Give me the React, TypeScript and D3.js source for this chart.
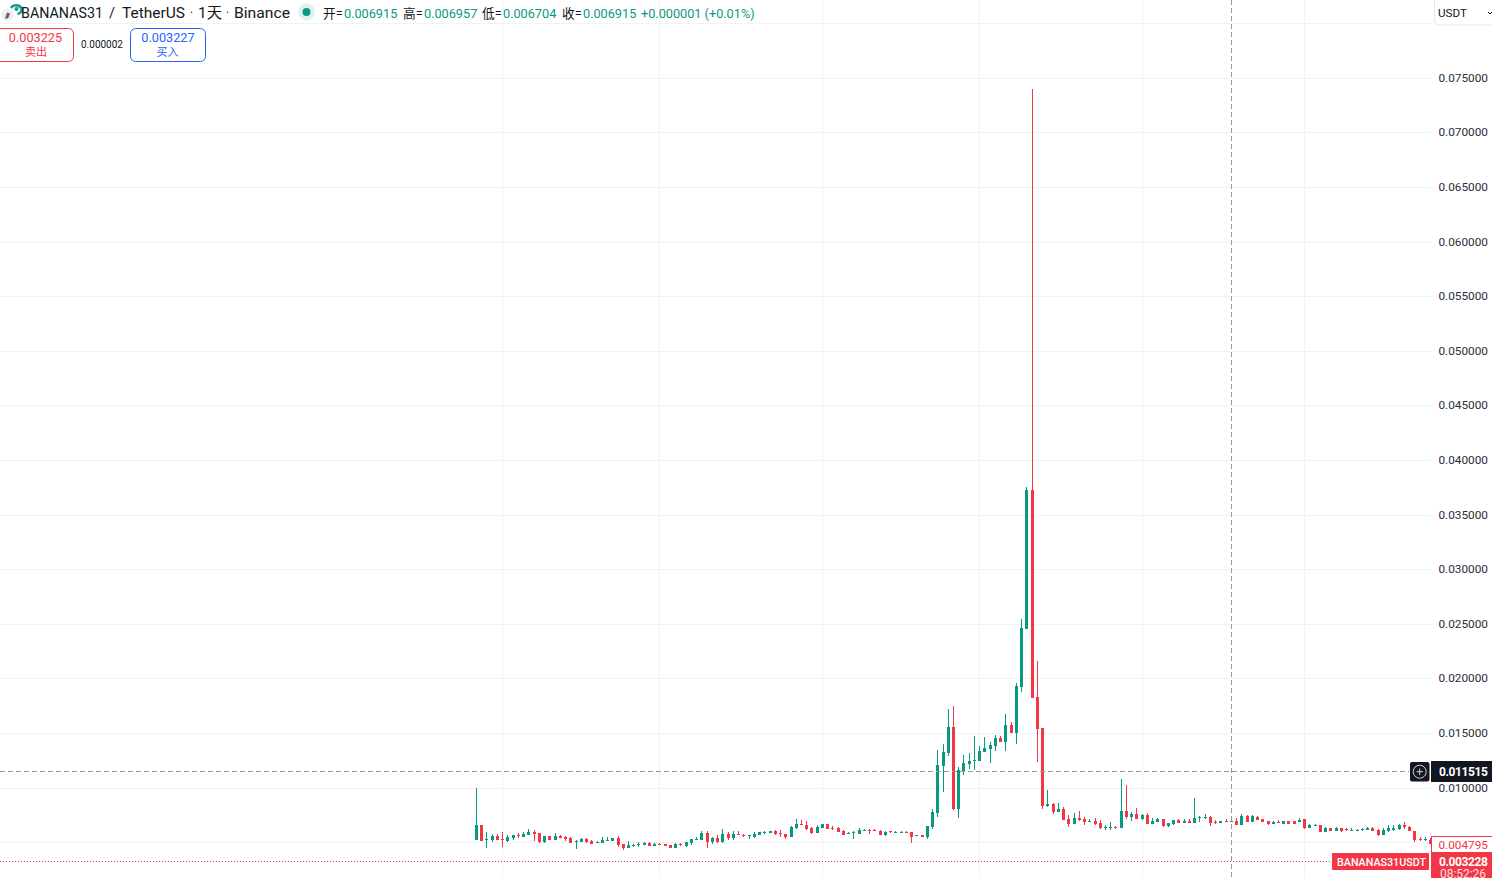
import React from "react";
import * as d3 from "d3";

const W = 1492;
const H = 878;
const FONT = "Roboto, 'Noto Sans CJK SC', sans-serif";
const UP = "#089981";
const DOWN = "#f23645";
const GRID = "#f1f2f4";
const CROSS = "#9598a1";

// prices in millionths of a USDT
const opens = [5220,6593,5220,5220,5586,5311,5128,5403,5678,5495,5678,5952,5861,5037,5586,5220,5586,5495,5403,5037,5037,5311,5128,4945,4945,5128,5128,5403,4853,4487,4670,4762,4762,4945,4670,4853,4853,4762,4487,4853,4670,4945,5220,5220,5861,5037,5403,5037,5769,5403,5769,5678,5586,5495,5678,5861,5861,6044,5861,5769,5495,6319,6685,6593,6319,5861,6319,6685,6319,6319,6044,5769,5861,5769,6044,6136,6136,6044,5678,6044,5861,5861,5952,5952,5586,5678,5495,6410,7692,11996,13187,15568,8059,11538,12179,12454,12454,13278,13553,13828,14560,14194,15751,15018,19231,24542,37271,18315,15476,8333,8516,7784,8059,7143,6685,7234,7143,6868,6960,6777,6319,6319,6410,6319,7875,7326,7601,7143,7509,6685,6868,7143,6502,6685,7051,6777,6960,6777,7234,7234,7326,6868,6777,6960,6868,6960,6593,7418,6868,7326,7143,6960,6685,6868,6685,6960,6960,6868,7143,6319,6502,6593,5952,6319,6044,6319,6227,6044,6044,6136,6136,6319,6136,5678,6044,6136,6227,6593,6410,6044,5311,5220,5220];
const highs = [9982,6593,5952,5769,5769,5952,5678,5678,5861,5952,6227,6136,5861,5586,5586,5861,5678,5586,5495,5220,5403,5403,5220,5128,5495,5495,5403,5586,4853,5128,4853,5037,5037,5037,4945,4945,4853,4762,4945,4945,5037,5311,5495,6044,6044,5495,5678,6227,5952,6044,6044,5769,5678,5952,5952,6044,6044,6136,6136,5769,6502,7143,7051,6960,6410,6593,6685,6685,6502,6410,6136,5952,6044,6319,6227,6227,6227,6136,6044,6044,6044,6044,6044,5952,5678,5678,6502,8059,13462,14011,17216,17491,11905,13004,13187,14744,13828,14652,14194,14835,14744,16758,16026,19597,25458,37546,73993,21612,15476,9798,8608,8608,8242,7509,7692,7875,7326,7143,7234,7051,6593,6868,6502,10806,10256,7784,8150,7601,7692,7234,7234,7143,6777,7051,7143,7143,7143,9066,7418,7601,7418,7051,6960,7143,6960,7234,7601,7509,7509,7418,7143,6960,6960,7051,6960,6960,6960,7234,7143,6685,6685,6593,6410,6319,6410,6319,6319,6319,6227,6319,6410,6410,6227,6319,6593,6593,6685,6868,6502,6044,5495,5495,5403];
const lows = [5220,5128,4487,5037,5220,4579,5037,5220,5403,5495,5678,5128,4945,4945,5220,5220,5403,5128,4945,4396,5037,4945,4853,4945,4945,5128,5128,4579,4304,4487,4579,4579,4762,4670,4670,4762,4670,4487,4487,4670,4579,4762,5220,5220,4487,4853,4945,4945,5220,5220,5678,5495,5311,5403,5678,5769,5861,5678,5495,5311,5495,6227,6593,6136,5769,5861,6319,6227,6136,5952,5678,5769,5311,5769,6044,5769,6044,5678,5586,5861,5861,5861,5861,4945,5586,5495,5311,6227,7326,9615,12912,7967,7234,11172,11722,11630,12454,13278,12271,13370,14194,13370,15018,14011,18773,24542,18223,12363,8059,8242,7601,7784,7051,6410,6685,6960,6593,6868,6593,6227,6136,6136,6227,6319,7143,6960,7143,7051,6685,6685,6868,6410,6410,6593,6777,6777,6777,6777,6868,7143,6502,6685,6777,6868,6868,6593,6593,6868,6868,7051,6868,6593,6685,6777,6685,6685,6685,6868,6227,6319,6502,5952,5952,6044,6044,5952,6044,6044,6044,6044,6136,6044,5586,5678,5952,6044,6136,6227,6044,5037,5128,5128,4795];
const closes = [6593,5128,5311,5586,5220,5220,5495,5678,5586,5769,5952,5769,5037,5586,5220,5586,5403,5311,4945,5128,5311,5037,4853,5037,5220,5220,5403,4762,4487,4762,4762,4853,4945,4670,4853,4762,4670,4487,4853,4762,5037,5311,5311,5861,5037,5403,5037,5769,5403,5769,5678,5586,5678,5769,5952,5952,6044,5769,5769,5495,6410,6685,6593,6227,5861,6410,6685,6227,6227,5952,5678,5861,5952,6136,6136,6044,6044,5678,5952,5952,5952,5952,5861,5495,5678,5495,6502,7784,12088,13278,15568,8059,11630,12271,12454,12546,13370,13645,13919,14560,14194,15751,15018,19322,24634,37271,18223,15385,8333,8516,7784,8059,7051,6685,7234,7051,6868,6960,6685,6319,6410,6410,6319,7875,7326,7601,7143,7509,6685,6960,7143,6502,6777,7051,6777,6960,6777,7234,7326,7326,6777,6777,6960,6868,6960,6593,7418,6868,7418,7051,6868,6685,6868,6777,6960,6685,6685,7051,6319,6593,6593,5952,6319,6044,6319,6044,6136,6136,6136,6227,6319,6044,5678,6136,6319,6319,6593,6410,6044,5220,5220,5311,4795];

const monthStarts = [5, 35, 66, 96, 127, 158];
const crosshairIndex = 144;
const crosshairPrice = 11515;
const lastPrice = 3228;
const yTicks = [5000,10000,15000,20000,25000,30000,35000,40000,45000,50000,55000,60000,65000,70000,75000];
const gridOnly = [80000];
const titleParts = [
  { text: "BANANAS31", x: 21, w: 82 },
  { text: "/", x: 109, w: 6 },
  { text: "TetherUS", x: 122, w: 63 },
  { text: "·", x: 190, w: 3 },
  { text: "1天", x: 198, w: 24 },
  { text: "·", x: 226, w: 3 },
  { text: "Binance", x: 234, w: 56 },
];
const legendItems = [
  { label: "开=", value: "0.006915", lx: 323, vx: 344 },
  { label: "高=", value: "0.006957", lx: 403, vx: 424 },
  { label: "低=", value: "0.006704", lx: 482, vx: 503 },
  { label: "收=", value: "0.006915", lx: 562, vx: 583 },
];

const x = d3.scaleLinear().domain([0, 182]).range([476, 1430]);
const y = d3.scaleLinear().domain([0, 80000]).range([896.8, 23.2]);
const fmt = (v: number) => (v / 1e6).toFixed(6);

export default function App() {
  return (
    <svg
      width={W}
      height={H}
      viewBox={`0 0 ${W} ${H}`}
      style={{ position: "fixed", left: 0, top: 0, background: "#fff", fontFamily: FONT }}
    >
      <g shapeRendering="crispEdges">
        {[...yTicks, ...gridOnly].map((t) => (
          <rect key={t} x={0} y={Math.round(y(t))} width={1431} height={1} fill={GRID} />
        ))}
        {monthStarts.map((i) => (
          <rect key={i} x={Math.round(x(i))} y={0} width={1} height={H} fill={GRID} />
        ))}
        {opens.map((o, i) => {
          const c = closes[i];
          const p = Math.round(x(i));
          const color = c >= o ? UP : DOWN;
          const top = Math.round(y(Math.max(o, c)));
          const bot = Math.round(y(Math.min(o, c)));
          const wt = Math.round(y(highs[i]));
          const wb = Math.round(y(lows[i]));
          return (
            <g key={i} fill={color}>
              <rect x={p} y={wt} width={1} height={Math.max(1, wb - wt)} />
              <rect x={p - 1} y={top} width={3} height={Math.max(1, bot - top)} />
            </g>
          );
        })}
        <line x1={Math.round(x(crosshairIndex)) + 0.5} x2={Math.round(x(crosshairIndex)) + 0.5} y1={0} y2={H} stroke={CROSS} strokeDasharray="5 3" />
        <line x1={0} x2={1409} y1={Math.round(y(crosshairPrice)) + 0.5} y2={Math.round(y(crosshairPrice)) + 0.5} stroke={CROSS} strokeDasharray="5 3" />
        <line x1={0} x2={1332} y1={Math.floor(y(lastPrice)) + 0.5} y2={Math.floor(y(lastPrice)) + 0.5} stroke={DOWN} strokeDasharray="1 2" />
      </g>

      {/* header */}
      <path d="M11 8 A6.2 6.2 0 0 1 22 9.5 A6 6 0 0 1 17.5 14" fill="none" stroke="#1a9c92" strokeWidth={2.6} />
      <circle cx={16.5} cy={9} r={2} fill="#1a9c92" />
      <circle cx={7.5} cy={15} r={6} fill="#eceef0" />
      <path d="M5 18.5 L7 12.5 L10 13.5 L8 18.5 Z" fill="#6b6155" />
      {titleParts.map((d) => (
        <text key={d.x} x={d.x} y={18} fontSize={14.5} fill="#131722" textLength={d.w} lengthAdjust="spacingAndGlyphs">{d.text}</text>
      ))}
      <circle cx={306.5} cy={12} r={8.5} fill="#dff1ee" />
      <circle cx={306.5} cy={12} r={4} fill={UP} />
      {legendItems.map((d) => (
        <g key={d.lx} fontSize={12.7}>
          <text x={d.lx} y={18} fill="#131722">{d.label}</text>
          <text x={d.vx} y={18} fill={UP}>{d.value}</text>
        </g>
      ))}
      <text x={641} y={18} fontSize={12.7} fill={UP}>+0.000001 (+0.01%)</text>

      {/* order buttons */}
      <rect x={-6} y={28.5} width={79.5} height={33} rx={5} fill="#fff" stroke={DOWN} />
      <text x={35.5} y={42} fontSize={12.7} fill={DOWN} textAnchor="middle">0.003225</text>
      <text x={36} y={56} fontSize={11} fill={DOWN} textAnchor="middle">卖出</text>
      <text x={102} y={48} fontSize={10} fill="#131722" textAnchor="middle">0.000002</text>
      <rect x={130.5} y={28.5} width={75} height={33} rx={5} fill="#fff" stroke="#2962ff" />
      <text x={168} y={42} fontSize={12.7} fill="#2962ff" textAnchor="middle">0.003227</text>
      <text x={167.5} y={56} fontSize={11} fill="#2962ff" textAnchor="middle">买入</text>

      {/* currency selector */}
      <rect x={1434.5} y={-6} width={70} height={31} rx={4} fill="#fff" stroke="#e6e8ee" />
      <text x={1438} y={17} fontSize={11.7} fill="#131722">USDT</text>
      <path d="M1488 12 L1490 14 L1492 12" fill="none" stroke="#131722" />

      {/* price axis */}
      {yTicks.map((t) => (
        <text key={t} x={1488} y={y(t) + 4} fontSize={11.8} fill="#2a2e39" textAnchor="end">{fmt(t)}</text>
      ))}

      {/* crosshair label */}
      <rect x={1410} y={762} width={19.5} height={19.5} rx={2} fill="#131722" />
      <circle cx={1419.7} cy={771.7} r={6.5} fill="none" stroke="#d1d4dc" />
      <path d="M1416.5 771.7 H1423 M1419.7 768.5 V775" stroke="#d1d4dc" />
      <rect x={1431} y={761} width={61} height={21} fill="#131722" />
      <text x={1439} y={776} fontSize={12} fontWeight={700} fill="#fff" textLength={49}>{fmt(crosshairPrice)}</text>

      {/* last price labels */}
      <rect x={1431.5} y={836.5} width={64} height={16} fill="#fff" stroke={DOWN} />
      <text x={1488} y={849} fontSize={11.8} fill={DOWN} textAnchor="end">0.004795</text>
      <rect x={1332} y={853} width={97} height={17} rx={1} fill={DOWN} />
      <text x={1337} y={866} fontSize={11.5} fontWeight={500} fill="#fff" textLength={89} lengthAdjust="spacingAndGlyphs">BANANAS31USDT</text>
      <rect x={1431} y={852} width={61} height={26} fill={DOWN} />
      <text x={1439} y={866} fontSize={12} fontWeight={700} fill="#fff" textLength={49}>{fmt(lastPrice)}</text>
      <text x={1440} y={878} fontSize={12} fill="#fff" opacity={0.85} textLength={46}>08:52:26</text>
    </svg>
  );
}
